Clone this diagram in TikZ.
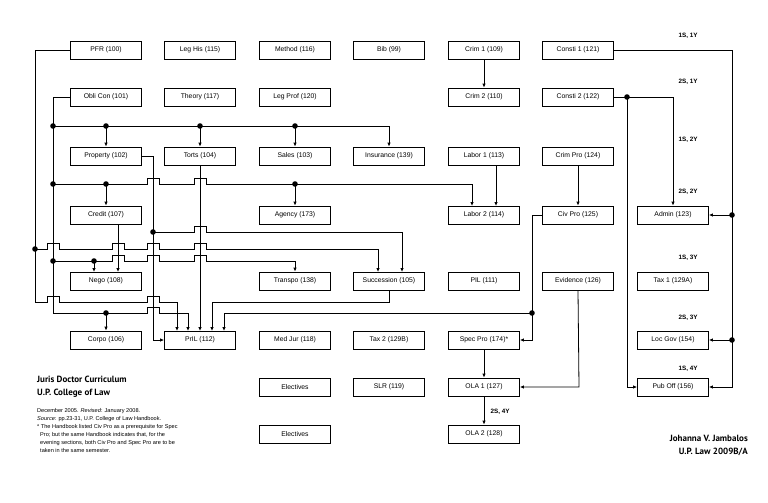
\documentclass[tikz,border=0pt]{standalone}
\usepackage{fontspec}
\setmainfont{Liberation Sans}
\newfontfamily\ttl{PT Sans}
\usetikzlibrary{arrows.meta}
\newcommand\jp[2]{-- ({#1-6},#2) -- ({#1-6},{#2-6}) -- ({#1+6},{#2-6}) -- ({#1+6},#2)}
\newcommand\dt[1]{\fill (#1) circle (2.8pt);}
\tikzset{box/.style={draw,line width=0.8pt,minimum width=71pt,minimum height=18pt,inner sep=0pt,font=\fontsize{6.8}{7}\selectfont},
wire/.style={line width=0.8pt},
arr/.style={wire,-{Latex[length=4pt,width=3.5pt]}},
lbl/.style={font=\bfseries\fontsize{6.3}{7}\selectfont},
big/.style={font=\ttl\bfseries\fontsize{9}{10}\selectfont,inner sep=0pt}}
\begin{document}
\begin{tikzpicture}[x=1pt,y=-1pt]
\useasboundingbox (0,0) rectangle (768,503);
% row1
\node[box] (pfr) at (106,50) {PFR (100)};
\node[box] (leghis) at (200,50) {Leg His (115)};
\node[box] (method) at (295,50) {Method (116)};
\node[box] (bib) at (389,50) {Bib (99)};
\node[box] (crim1) at (484,50) {Crim 1 (109)};
\node[box] (con1) at (578,50) {Consti 1 (121)};
% row2
\node[box] (obli) at (106,97) {Obli Con (101)};
\node[box] (theory) at (200,97) {Theory (117)};
\node[box] (legprof) at (295,97) {Leg Prof (120)};
\node[box] (crim2) at (484,97) {Crim 2 (110)};
\node[box] (con2) at (578,97) {Consti 2 (122)};
% row3
\node[box] (prop) at (106,156) {Property (102)};
\node[box] (torts) at (200,156) {Torts (104)};
\node[box] (sales) at (295,156) {Sales (103)};
\node[box] (ins) at (389,156) {Insurance (139)};
\node[box] (lab1) at (484,156) {Labor 1 (113)};
\node[box] (crimpro) at (578,156) {Crim Pro (124)};
% row4
\node[box] (credit) at (106,215) {Credit (107)};
\node[box] (agency) at (295,215) {Agency (173)};
\node[box] (lab2) at (484,215) {Labor 2 (114)};
\node[box] (civ) at (578,215) {Civ Pro (125)};
\node[box] (admin) at (673,215) {Admin (123)};
% row5
\node[box] (nego) at (106,281) {Nego (108)};
\node[box] (trans) at (295,281) {Transpo (138)};
\node[box] (succ) at (389,281) {Succession (105)};
\node[box] (pil) at (484,281) {PIL (111)};
\node[box] (evid) at (578,281) {Evidence (126)};
\node[box] (tax1) at (673,281) {Tax 1 (129A)};
% row6
\node[box] (corpo) at (106,340) {Corpo (106)};
\node[box] (pril) at (200,340) {PrIL (112)};
\node[box] (medjur) at (295,340) {Med Jur (118)};
\node[box] (tax2) at (389,340) {Tax 2 (129B)};
\node[box] (spec) at (484,340) {Spec Pro (174)*};
\node[box] (locgov) at (673,340) {Loc Gov (154)};
% row7
\node[box] (el1) at (295,387) {Electives};
\node[box] (slr) at (389,387) {SLR (119)};
\node[box] (ola1) at (484,387) {OLA 1 (127)};
\node[box] (pub) at (673,387) {Pub Off (156)};
% row8
\node[box] (el2) at (295,434) {Electives};
\node[box] (ola2) at (484,434) {OLA 2 (128)};
% labels
\node[lbl] (l1) at (688,36) {1S, 1Y};
\node[lbl] (l2) at (688,82) {2S, 1Y};
\node[lbl] (l3) at (688,140) {1S, 2Y};
\node[lbl] (l4) at (688,192) {2S, 2Y};
\node[lbl] (l5) at (688,258) {1S, 3Y};
\node[lbl] (l6) at (688,318) {2S, 3Y};
\node[lbl] (l7) at (688,369) {1S, 4Y};
\node[lbl] (l8) at (500,412) {2S, 4Y};
% PFR
\draw[arr] (pfr.west) -- (35,50) -- (35,302) \jp{53}{302} \jp{153}{302} -- (177,302) -- (177,331);
\dt{35,249}
\draw[arr] (35,249) \jp{53}{249} \jp{118}{249} \jp{153}{249} \jp{200}{249} -- (378,249) -- (378,272);
% Obli
\draw[arr] (obli.west) -- (53,97) -- (53,313) \jp{153}{313} -- (188,313) -- (188,331);
\dt{106,313} \draw[arr] (106,313) -- (corpo.north);
\dt{53,126}
\draw[arr] (53,126) -- (389,126) -- (ins.north);
\dt{106,126} \draw[arr] (106,126) -- (prop.north);
\dt{200,126} \draw[arr] (200,126) -- (torts.north);
\dt{295,126} \draw[arr] (295,126) -- (sales.north);
\dt{53,184}
\draw[arr] (53,184) \jp{153}{184} \jp{200}{184} -- (472,184) -- (472,206);
\dt{106,184} \draw[arr] (106,184) -- (credit.north);
\dt{295,184} \draw[arr] (295,184) -- (agency.north);
\draw[arr] (496,165) -- (496,206);
\dt{53,261}
\draw[arr] (53,261) \jp{118}{261} \jp{153}{261} \jp{200}{261} -- (295,261) -- (trans.north);
\dt{94,261} \draw[arr] (94,261) -- (94,272);
\draw[arr] (118,224) -- (118,272);
% Property
\draw[arr] (prop.east) -- (153,156) -- (153,340) -- (pril.west);
\dt{153,232}
\draw[arr] (153,232) \jp{200}{232} -- (402,232) -- (402,272);
\draw[arr] (torts.south) -- (200,331);
\draw[arr] (succ.south) -- (389,302) -- (212,302) -- (212,331);
% Civ Pro
\draw[arr] (civ.west) -- (532,215) -- (532,340) -- (spec.east);
\dt{532,313}
\draw[arr] (532,313) -- (224,313) -- (224,331);
\draw[arr] (crim1) -- (crim2);
\draw[arr] (crimpro) -- (civ);
\draw[arr] (spec) -- (ola1);
\draw[arr] (ola1) -- (ola2);
\draw[arr] (evid.south) -- (579,387) -- (ola1.east);
% Consti
\draw[arr] (con1.east) -- (732,50) -- (732,387) -- (pub.east);
\dt{732,215} \draw[arr] (732,215) -- (admin.east);
\dt{732,340} \draw[arr] (732,340) -- (locgov.east);
\dt{627,97}
\draw[arr] (con2.east) -- (673,97) -- (admin.north);
\draw[arr] (627,97) -- (627,387) -- (pub.west);
% texts
\node[big,anchor=west] (t1) at (37,379) {Juris Doctor Curriculum};
\node[big,anchor=west] (t2) at (37,393) {U.P. College of Law};
\node[anchor=north west,inner sep=0pt,align=left,font=\fontsize{5.6}{8}\selectfont] (notes) at (37,408) {December 2005. \textit{Revised}: January 2008.\\
\textit{Source}: pp.23-31, U.P. College of Law Handbook.\\
* The Handbook listed Civ Pro as a prerequisite for Spec\\
\hspace*{3pt}Pro; but the same Handbook indicates that, for the\\
\hspace*{3pt}evening sections, both Civ Pro and Spec Pro are to be\\
\hspace*{3pt}taken in the same semester.};
\node[big,anchor=east] (s1) at (748,438) {Johanna V. Jambalos};
\node[big,anchor=east] (s2) at (748,452) {U.P. Law 2009B/A};
\end{tikzpicture}
\end{document}
